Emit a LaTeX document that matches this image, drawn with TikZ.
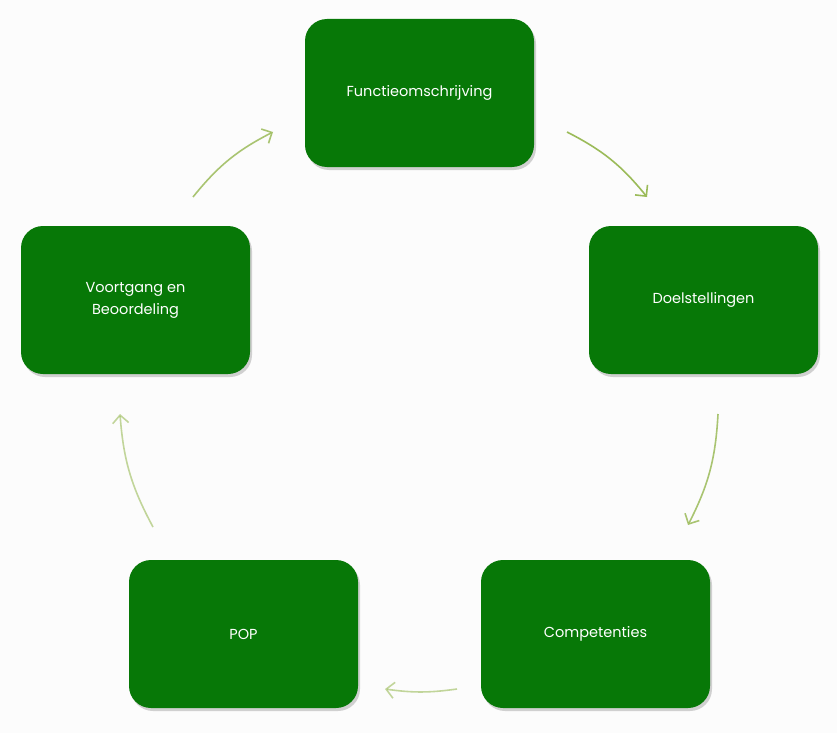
\documentclass[tikz,border=0pt]{standalone}
\usepackage{fontspec}
\setmainfont{Poppins}
\usetikzlibrary{arrows.meta,shadows}
\definecolor{boxg}{HTML}{077807}
\definecolor{arr}{HTML}{9BBB59}
\begin{document}
\begin{tikzpicture}[x=1pt,y=-1pt,
  box/.style={rounded corners=22pt,fill=boxg,draw=none,minimum width=229pt,minimum height=148pt,
    text=white,align=center,font=\fontsize{14.5}{22}\selectfont,
    drop shadow={shadow xshift=2pt,shadow yshift=-3pt,opacity=0.35}},
  cyc/.style={draw=arr,line width=1.6pt,-{Straight Barb[length=8pt,width=16pt,line width=1.6pt]}}]
\useasboundingbox[fill=white!99!black] (0,0) rectangle (837,733);
\node[box] (f) at (419.5,93) {Functieomschrijving};
\node[box] (d) at (703.5,300) {Doelstellingen};
\node[box] (c) at (595.5,634) {Competenties};
\node[box] (p) at (243.5,634) {POP};
\node[box] (v) at (135.5,300) {Voortgang en\\Beoordeling};
\coordinate (a1) at (567,132); \coordinate (b1) at (647,197);
\coordinate (a2) at (718,414); \coordinate (b2) at (688,525);
\coordinate (a3) at (457,689); \coordinate (b3) at (385,689);
\coordinate (a4) at (153,527); \coordinate (b4) at (120,414);
\coordinate (a5) at (193,197); \coordinate (b5) at (273,132);
\draw[cyc] (a1) to[bend left=12] (b1);
\draw[cyc,draw opacity=0.85] (a2) to[bend left=12] (b2);
\draw[cyc,draw opacity=0.6] (a3) to[bend left=8] (b3);
\draw[cyc,draw opacity=0.6] (a4) to[bend left=12] (b4);
\draw[cyc,draw opacity=0.85] (a5) to[bend left=12] (b5);
\end{tikzpicture}
\end{document}
